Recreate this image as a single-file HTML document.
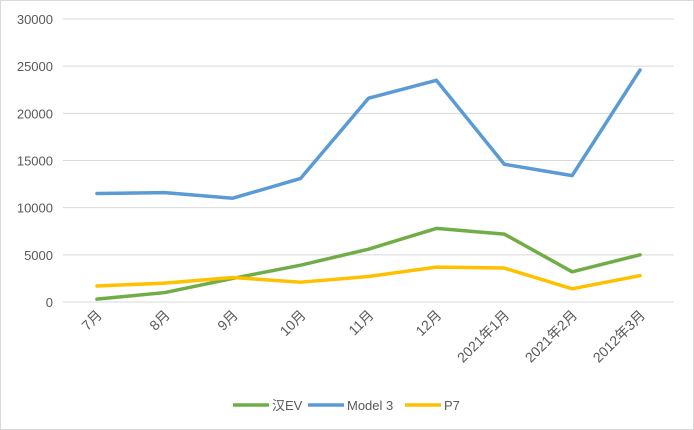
<!DOCTYPE html>
<html><head><meta charset="utf-8"><style>
body{margin:0;background:#fff;}
svg{display:block;font-family:"Liberation Sans","Noto Sans CJK SC",sans-serif;}
</style></head><body>
<svg id="c" width="694" height="430">
<rect x="0.5" y="0.5" width="693" height="429" fill="#fff" stroke="#d9d9d9"/>
<g id="grid"></g><g id="ylab"></g><g id="xlab"></g><g id="lines"></g><g id="legend"></g>
</svg>
<script>
const categories=["7月","8月","9月","10月","11月","12月","2021年1月","2021年2月","2012年3月"];
const hanEV=[300,1000,2500,3900,5600,7800,7200,3200,5000];
const model3=[11500,11600,11000,13100,21600,23500,14600,13400,24600];
const p7=[1700,2000,2600,2100,2700,3700,3600,1400,2800];
const yTicks=[0,5000,10000,15000,20000,25000,30000];
const seriesNames=["汉EV","Model 3","P7"];
const NS="http://www.w3.org/2000/svg";
const L=63,R=674,T=19,B=302,MAX=30000;
const step=(R-L)/categories.length;
function x(i){return L+step/2+i*step;}
function y(v){return B-(v/MAX)*(B-T);}
function mk(t,a,p){const e=document.createElementNS(NS,t);for(const k in a)e.setAttribute(k,a[k]);p.appendChild(e);return e;}
const grid=document.getElementById('grid'),yl=document.getElementById('ylab'),xl=document.getElementById('xlab');
yTicks.forEach(v=>{
 const g=mk('line',{x1:L,x2:R,y1:y(v),y2:y(v),stroke:'#d9d9d9','stroke-width':1},grid);
 
 
 const t=mk('text',{x:53,y:y(v)+5,'text-anchor':'end','font-size':13,fill:'#595959'},yl);
 t.textContent=v;
 
 
});
categories.forEach((c,i)=>{
 const t=mk('text',{transform:`translate(${x(i)+6},${B+14}) rotate(-45)`,'text-anchor':'end','font-size':14,fill:'#595959'},xl);
 t.textContent=c;
 
 
});
const colors=["#70ad47","#5b9bd5","#ffc000"];
const data=[hanEV,model3,p7];
const lines=document.getElementById('lines');
[1,0,2].forEach(s=>{
 const pts=data[s].map((v,i)=>x(i)+','+y(v)).join(' ');
 const p=mk('polyline',{points:pts,fill:'none',stroke:colors[s],'stroke-width':3.5,'stroke-linejoin':'round','stroke-linecap':'round'},lines);
 
 
});
const lg=document.getElementById('legend');
const lx=[233,308,405];
seriesNames.forEach((n,s)=>{
 const l=mk('line',{x1:lx[s],x2:lx[s]+36,y1:405,y2:405,stroke:colors[s],'stroke-width':3.5},lg);
 
 
 const t=mk('text',{x:lx[s]+39,y:410,'font-size':13,fill:'#595959'},lg);
 t.textContent=n;
 
 
});
</script>
</body></html>
